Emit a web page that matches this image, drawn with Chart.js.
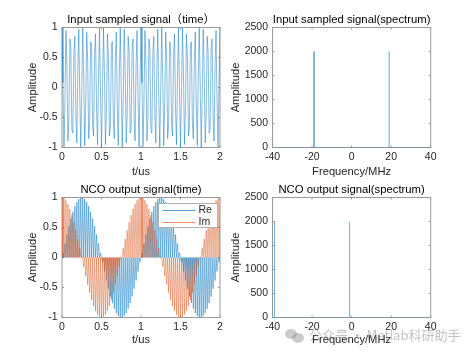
<!DOCTYPE html>
<html><head><meta charset="utf-8">
<script src="https://cdn.jsdelivr.net/npm/chart.js@4/dist/chart.umd.min.js"></script>
<style>
html,body{margin:0;padding:0;background:#fff;}
#fig{position:relative;width:474px;height:355px;overflow:hidden;background:#fff;}
#fig canvas{position:absolute;left:0;top:0;}
#wm{position:absolute;left:285px;top:326px;height:18px;font:13px "Noto Sans CJK SC","Liberation Sans",sans-serif;color:rgba(110,110,110,0.42);white-space:nowrap;line-height:18px;}
#wm .ico{display:inline-block;position:relative;width:20px;height:16px;vertical-align:middle;margin-right:4px;}
#wm .ico i{position:absolute;display:block;border-radius:50%;background:rgba(140,140,140,0.45);}
</style></head><body>
<div id="fig">
<canvas id="c1" width="474" height="355"></canvas>
<canvas id="c2" width="474" height="355"></canvas>
<canvas id="c3" width="474" height="355"></canvas>
<canvas id="c4" width="474" height="355"></canvas>
<div id="wm"><span class="ico"><i style="left:0;top:1px;width:12px;height:10px"></i><i style="left:7px;top:5px;width:12px;height:10px"></i></span>公众号 · Matlab科研助手</div>
</div>
<script>
// ---------- data ----------
const timeUs = [
0,0.0125,0.025,0.0375,0.05,0.0625,0.075,0.0875,0.1,0.1125,0.125,0.1375,0.15,0.1625,0.175,0.1875,0.2,0.2125,0.225,0.2375,
0.25,0.2625,0.275,0.2875,0.3,0.3125,0.325,0.3375,0.35,0.3625,0.375,0.3875,0.4,0.4125,0.425,0.4375,0.45,0.4625,0.475,0.4875,
0.5,0.5125,0.525,0.5375,0.55,0.5625,0.575,0.5875,0.6,0.6125,0.625,0.6375,0.65,0.6625,0.675,0.6875,0.7,0.7125,0.725,0.7375,
0.75,0.7625,0.775,0.7875,0.8,0.8125,0.825,0.8375,0.85,0.8625,0.875,0.8875,0.9,0.9125,0.925,0.9375,0.95,0.9625,0.975,0.9875,
1,1.0125,1.025,1.0375,1.05,1.0625,1.075,1.0875,1.1,1.1125,1.125,1.1375,1.15,1.1625,1.175,1.1875,1.2,1.2125,1.225,1.2375,
1.25,1.2625,1.275,1.2875,1.3,1.3125,1.325,1.3375,1.35,1.3625,1.375,1.3875,1.4,1.4125,1.425,1.4375,1.45,1.4625,1.475,1.4875,
1.5,1.5125,1.525,1.5375,1.55,1.5625,1.575,1.5875,1.6,1.6125,1.625,1.6375,1.65,1.6625,1.675,1.6875,1.7,1.7125,1.725,1.7375,
1.75,1.7625,1.775,1.7875,1.8,1.8125,1.825,1.8375,1.85,1.8625,1.875,1.8875,1.9,1.9125,1.925,1.9375,1.95,1.9625,1.975,1.9875,
2];

const inputSignal = [
1,0.078,-0.988,-0.233,0.951,0.383,-0.891,-0.522,0.809,0.649,-0.707,-0.76,0.588,0.853,-0.454,-0.924,0.309,0.972,-0.156,-0.997,
0,0.997,0.156,-0.972,-0.309,0.924,0.454,-0.853,-0.588,0.76,0.707,-0.649,-0.809,0.522,0.891,-0.383,-0.951,0.233,0.988,-0.078,
-1,-0.078,0.988,0.233,-0.951,-0.383,0.891,0.522,-0.809,-0.649,0.707,0.76,-0.588,-0.853,0.454,0.924,-0.309,-0.972,0.156,0.997,
0,-0.997,-0.156,0.972,0.309,-0.924,-0.454,0.853,0.588,-0.76,-0.707,0.649,0.809,-0.522,-0.891,0.383,0.951,-0.233,-0.988,0.078,
1,0.078,-0.988,-0.233,0.951,0.383,-0.891,-0.522,0.809,0.649,-0.707,-0.76,0.588,0.853,-0.454,-0.924,0.309,0.972,-0.156,-0.997,
0,0.997,0.156,-0.972,-0.309,0.924,0.454,-0.853,-0.588,0.76,0.707,-0.649,-0.809,0.522,0.891,-0.383,-0.951,0.233,0.988,-0.078,
-1,-0.078,0.988,0.233,-0.951,-0.383,0.891,0.522,-0.809,-0.649,0.707,0.76,-0.588,-0.853,0.454,0.924,-0.309,-0.972,0.156,0.997,
0,-0.997,-0.156,0.972,0.309,-0.924,-0.454,0.853,0.588,-0.76,-0.707,0.649,0.809,-0.522,-0.891,0.383,0.951,-0.233,-0.988,0.078,
1];

const ncoRe = [
0,0.078,0,0.233,0,0.383,0,0.522,0,0.649,0,0.76,0,0.853,0,0.924,0,0.972,0,0.997,
0,0.997,0,0.972,0,0.924,0,0.853,0,0.76,0,0.649,0,0.522,0,0.383,0,0.233,0,0.078,
0,-0.078,0,-0.233,0,-0.383,0,-0.522,0,-0.649,0,-0.76,0,-0.853,0,-0.924,0,-0.972,0,-0.997,
0,-0.997,0,-0.972,0,-0.924,0,-0.853,0,-0.76,0,-0.649,0,-0.522,0,-0.383,0,-0.233,0,-0.078,
0,0.078,0,0.233,0,0.383,0,0.522,0,0.649,0,0.76,0,0.853,0,0.924,0,0.972,0,0.997,
0,0.997,0,0.972,0,0.924,0,0.853,0,0.76,0,0.649,0,0.522,0,0.383,0,0.233,0,0.078,
0,-0.078,0,-0.233,0,-0.383,0,-0.522,0,-0.649,0,-0.76,0,-0.853,0,-0.924,0,-0.972,0,-0.997,
0,-0.997,0,-0.972,0,-0.924,0,-0.853,0,-0.76,0,-0.649,0,-0.522,0,-0.383,0,-0.233,0,-0.078,
0];

const ncoIm = [
1,0,0.988,0,0.951,0,0.891,0,0.809,0,0.707,0,0.588,0,0.454,0,0.309,0,0.156,0,
0,0,-0.156,0,-0.309,0,-0.454,0,-0.588,0,-0.707,0,-0.809,0,-0.891,0,-0.951,0,-0.988,0,
-1,0,-0.988,0,-0.951,0,-0.891,0,-0.809,0,-0.707,0,-0.588,0,-0.454,0,-0.309,0,-0.156,0,
0,0,0.156,0,0.309,0,0.454,0,0.588,0,0.707,0,0.809,0,0.891,0,0.951,0,0.988,0,
1,0,0.988,0,0.951,0,0.891,0,0.809,0,0.707,0,0.588,0,0.454,0,0.309,0,0.156,0,
0,0,-0.156,0,-0.309,0,-0.454,0,-0.588,0,-0.707,0,-0.809,0,-0.891,0,-0.951,0,-0.988,0,
-1,0,-0.988,0,-0.951,0,-0.891,0,-0.809,0,-0.707,0,-0.588,0,-0.454,0,-0.309,0,-0.156,0,
0,0,0.156,0,0.309,0,0.454,0,0.588,0,0.707,0,0.809,0,0.891,0,0.951,0,0.988,0,
1];

const inputSpecFreq = [-40,-19.02,-19,-18.98,18.98,19,19.02,39.98];
const inputSpecAmp  = [0,0,2000,0,0,2000,0,0];
const ncoSpecFreq   = [-40,-39.02,-39,-38.98,-1.02,-1,-0.98,39.98];
const ncoSpecAmp    = [0,0,2000,0,0,2000,0,0];

const timeTicks = [0,0.5,1,1.5,2];
const ampTicks  = [-1,-0.5,0,0.5,1];
const freqTicks = [-40,-20,0,20,40];
const specTicks = [0,500,1000,1500,2000,2500];

const seriesNames = ['Re','Im'];
const titles = ['Input sampled signal（time）','Input sampled signal(spectrum)','NCO output signal(time)','NCO output signal(spectrum)'];

// ---------- styling ----------
const FONT = "'Liberation Sans', Arial, 'Noto Sans CJK SC', sans-serif";
const TXT = '#262626';
const AXC = '#9a9a9a';
const BLUE = 'rgba(0,114,189,0.8)';
const ORANGE = 'rgba(217,83,25,0.75)';
const SPEC = 'rgba(60,140,200,0.75)';

const axesPlugin = {
  id: 'matlabAxes',
  beforeDatasetsDraw(chart) {
    const {ctx, chartArea: a, scales} = chart;
    ctx.save();
    ctx.strokeStyle = AXC;
    ctx.lineWidth = 1;
    ctx.strokeRect(a.left, a.top, a.right - a.left, a.bottom - a.top);
    const tl = 2;
    ctx.beginPath();
    scales.x.ticks.forEach(t => {
      const px = scales.x.getPixelForValue(t.value);
      ctx.moveTo(px, a.bottom); ctx.lineTo(px, a.bottom - tl);
      ctx.moveTo(px, a.top); ctx.lineTo(px, a.top + tl);
    });
    scales.y.ticks.forEach(t => {
      const py = scales.y.getPixelForValue(t.value);
      ctx.moveTo(a.left, py); ctx.lineTo(a.left + tl, py);
      ctx.moveTo(a.right, py); ctx.lineTo(a.right - tl, py);
    });
    ctx.stroke();
    ctx.restore();
  }
};

const legendPlugin = {
  id: 'insideLegend',
  afterDatasetsDraw(chart, args, opts) {
    if (!opts || !opts.show) return;
    const {ctx, chartArea: a} = chart;
    const w = 59, h = 24;
    const x0 = Math.round(a.right - 62) + 0.5, y0 = Math.round(a.top + 5) + 0.5;
    ctx.save();
    ctx.fillStyle = '#fff';
    ctx.fillRect(x0, y0, w, h);
    ctx.strokeStyle = '#b0b0b0';
    ctx.lineWidth = 1;
    ctx.strokeRect(x0, y0, w, h);
    ctx.font = '10.5px ' + FONT;
    ctx.textBaseline = 'middle';
    ctx.textAlign = 'left';
    const legendColors = ['#4d9fd8', '#ef8d64'];
    chart.data.datasets.forEach((ds, i) => {
      const yy = y0 + 6.5 + i * 12;
      ctx.strokeStyle = legendColors[i];
      ctx.lineWidth = 1;
      ctx.beginPath(); ctx.moveTo(x0 + 4, Math.round(yy) + 0.5); ctx.lineTo(x0 + 37, Math.round(yy) + 0.5); ctx.stroke();
      ctx.fillStyle = TXT;
      ctx.fillText(ds.label, x0 + 40, yy + 0.5);
    });
    ctx.restore();
  }
};

function xScale(min, max, tickArr, label, hx) {
  return {
    type: 'linear', position: 'bottom', min, max,
    afterBuildTicks: s => { s.ticks = tickArr.map(v => ({value: v})); },
    afterFit: s => { s.height = hx; },
    grid: {display: false, drawTicks: false},
    border: {display: false},
    ticks: {color: TXT, font: {family: FONT, size: 10.5}, padding: 3, maxRotation: 0, autoSkip: false, callback: v => String(v)},
    title: {display: true, text: label, color: TXT, font: {family: FONT, size: 11.2}, padding: 0}
  };
}
function yScale(min, max, tickArr, label, wy) {
  return {
    type: 'linear', position: 'left', min, max,
    afterBuildTicks: s => { s.ticks = tickArr.map(v => ({value: v})); },
    afterFit: s => { s.width = wy; },
    grid: {display: false, drawTicks: false},
    border: {display: false},
    ticks: {color: TXT, font: {family: FONT, size: 10.5}, padding: 4.5, autoSkip: false, callback: v => String(v)},
    title: {display: true, text: label, color: TXT, font: {family: FONT, size: 11.2}, padding: 0}
  };
}

function makeChart(id, cfg) {
  const L = cfg.L, R = cfg.R, T = cfg.T, B = cfg.B;
  const lh = 11.3 * 1.2;
  const P = cfg.titleY - lh / 2;
  const tb = T - P - lh;
  return new Chart(document.getElementById(id), {
    type: 'line',
    data: {datasets: cfg.datasets},
    options: {
      responsive: false, animation: false, devicePixelRatio: 1, events: [],
      layout: {padding: {left: L - cfg.wy, right: 474 - R, top: P, bottom: 355 - B - cfg.hx}},
      elements: {point: {radius: 0}, line: {tension: 0, borderJoinStyle: 'bevel'}},
      scales: {x: xScale(cfg.xmin, cfg.xmax, cfg.xt, cfg.xl, cfg.hx), y: yScale(cfg.ymin, cfg.ymax, cfg.yt, 'Amplitude', cfg.wy)},
      plugins: {
        legend: {display: false}, tooltip: {enabled: false},
        title: {display: true, text: cfg.title, fullSize: false, color: '#000', font: {family: FONT, size: 11.3, weight: 'normal'}, padding: {top: 0, bottom: tb}},
        insideLegend: {show: !!cfg.legend}
      }
    },
    plugins: [axesPlugin, legendPlugin]
  });
}

function pts(xs, ys) { return xs.map((x, i) => ({x: x, y: ys[i]})); }
function lineDs(label, xs, ys, color, w, order) {
  return {label, data: pts(xs, ys), borderColor: color, backgroundColor: color, borderWidth: w, borderJoinStyle: 'bevel', pointRadius: 0, fill: false, order: order};
}

makeChart('c1', {L: 62, R: 220, T: 27.5, B: 147.5, titleY: 19.7, wy: 35.7, hx: 31.5,
  xmin: 0, xmax: 2, xt: timeTicks, xl: 't/us', ymin: -1, ymax: 1, yt: ampTicks, title: titles[0],
  datasets: [lineDs('x', timeUs, inputSignal, BLUE, 0.6, 0)]});

makeChart('c2', {L: 272.5, R: 430.7, T: 27.5, B: 147.5, titleY: 19.7, wy: 43.2, hx: 31.5,
  xmin: -40, xmax: 40, xt: freqTicks, xl: 'Frequency/MHz', ymin: 0, ymax: 2500, yt: specTicks, title: titles[1],
  datasets: [lineDs('X', inputSpecFreq, inputSpecAmp, SPEC, 0.6, 0)]});

makeChart('c3', {L: 62, R: 220, T: 197.5, B: 317.5, titleY: 190, wy: 35.7, hx: 29.2,
  xmin: 0, xmax: 2, xt: timeTicks, xl: 't/us', ymin: -1, ymax: 1, yt: ampTicks, title: titles[2], legend: true,
  datasets: [lineDs(seriesNames[0], timeUs, ncoRe, BLUE, 0.6, 1), lineDs(seriesNames[1], timeUs, ncoIm, ORANGE, 0.6, 0)]});

makeChart('c4', {L: 272.5, R: 430.7, T: 197.5, B: 317.5, titleY: 190, wy: 43.2, hx: 29.2,
  xmin: -40, xmax: 40, xt: freqTicks, xl: 'Frequency/MHz', ymin: 0, ymax: 2500, yt: specTicks, title: titles[3],
  datasets: [lineDs('Y', ncoSpecFreq, ncoSpecAmp, SPEC, 0.6, 0)]});
</script>
</body></html>
